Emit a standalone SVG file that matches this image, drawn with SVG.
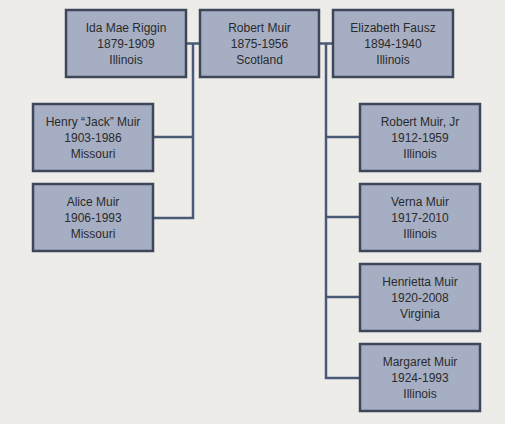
<svg xmlns="http://www.w3.org/2000/svg" width="505" height="424" viewBox="0 0 505 424">
<style>
.box{fill:#a6aec3;stroke:#3d4759;stroke-width:2.5}
.t{font-family:"Liberation Sans",Arial,sans-serif;font-size:12px;fill:#2b2b2b;text-anchor:middle}
.c{fill:none;stroke:#4a5a76;stroke-width:2.5}
</style>
<rect x="0" y="0" width="505" height="424" fill="#eeece9"/>
<g id="connectors">
<path class="c" d="M186 43.5H200M193 43.5V218H153M193 137H153"/>
<path class="c" d="M319 43.5H333M326 43.5V378H360M326 137H360M326 217H360M326 297H360"/>
</g>
<g id="ida"><rect class="box" x="66" y="10" width="120" height="67"/><text class="t" x="126" y="32">Ida Mae Riggin</text><text class="t" x="126" y="48">1879-1909</text><text class="t" x="126" y="64">Illinois</text></g>
<g id="robert"><rect class="box" x="200" y="10" width="119" height="67"/><text class="t" x="259.5" y="32">Robert Muir</text><text class="t" x="259.5" y="48">1875-1956</text><text class="t" x="259.5" y="64">Scotland</text></g>
<g id="elizabeth"><rect class="box" x="333" y="10" width="120" height="67"/><text class="t" x="393" y="32">Elizabeth Fausz</text><text class="t" x="393" y="48">1894-1940</text><text class="t" x="393" y="64">Illinois</text></g>
<g id="henry"><rect class="box" x="33" y="104" width="120" height="67"/><text class="t" x="93" y="126">Henry “Jack” Muir</text><text class="t" x="93" y="142">1903-1986</text><text class="t" x="93" y="158">Missouri</text></g>
<g id="alice"><rect class="box" x="33" y="184" width="120" height="67"/><text class="t" x="93" y="206">Alice Muir</text><text class="t" x="93" y="222">1906-1993</text><text class="t" x="93" y="238">Missouri</text></g>
<g id="robertjr"><rect class="box" x="360" y="104" width="120" height="67"/><text class="t" x="420" y="126">Robert Muir, Jr</text><text class="t" x="420" y="142">1912-1959</text><text class="t" x="420" y="158">Illinois</text></g>
<g id="verna"><rect class="box" x="360" y="184" width="120" height="67"/><text class="t" x="420" y="206">Verna Muir</text><text class="t" x="420" y="222">1917-2010</text><text class="t" x="420" y="238">Illinois</text></g>
<g id="henrietta"><rect class="box" x="360" y="264" width="120" height="67"/><text class="t" x="420" y="286">Henrietta Muir</text><text class="t" x="420" y="302">1920-2008</text><text class="t" x="420" y="318">Virginia</text></g>
<g id="margaret"><rect class="box" x="360" y="344" width="120" height="67"/><text class="t" x="420" y="366">Margaret Muir</text><text class="t" x="420" y="382">1924-1993</text><text class="t" x="420" y="398">Illinois</text></g>
</svg>
